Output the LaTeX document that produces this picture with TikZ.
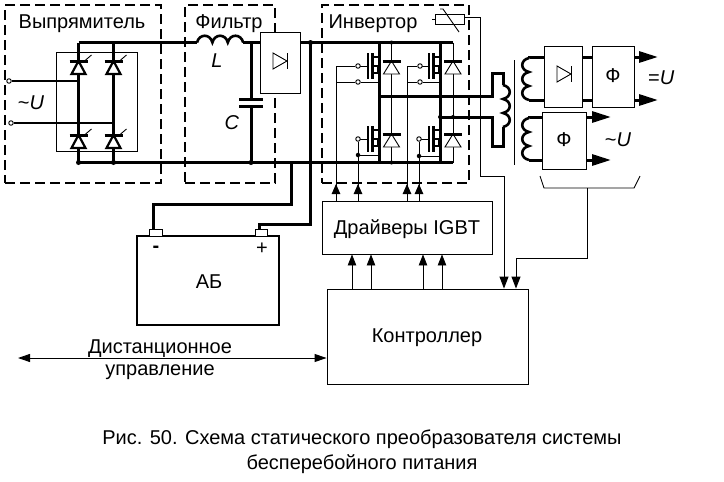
\documentclass[tikz,border=0pt]{standalone}
\usepackage{fontspec}
\setmainfont{Liberation Sans}
\usepackage{tikz}
\usetikzlibrary{arrows.meta}
\tikzset{
	thinw/.style={line width=0.9pt},
	wire/.style={line width=3pt},
	frame/.style={draw, line width=2.2pt, dash pattern=on 10pt off 5pt, inner sep=0pt},
	block/.style={draw, fill=white, line width=0.9pt, inner sep=0pt},
	lbl/.style={inner sep=0pt, font=\fontsize{20}{22}\selectfont},
	sig/.style={thinw, -{Triangle[length=11pt, width=8.5pt]}},
	big/.style={wire, -{Triangle[length=19pt, width=11pt]}},
	dot/.style={circle, fill=black, minimum size=5pt, inner sep=0pt},
	pin/.style={circle, draw, fill=white, line width=0.9pt, minimum size=4.5pt, inner sep=0pt},
	pics/coil/.style={code={
		\draw[wire, line width=2.6pt] (0,0) .. controls (2,-9) and (12,-9) .. (14,0) .. controls (16,-9) and (26,-9) .. (28,0) .. controls (30,-9) and (40,-9) .. (42,0);
	}},
	pics/thyr/.style={code={
		\draw[wire, fill=white, line width=2.2pt] (-7,13) -- (7,13) -- (0,0) -- cycle;
		\draw[wire] (-9,0) -- (9,0);
		\draw[thinw] (6,0) -- (13,-6);
	}},
	pics/fwd/.style={code={
		\draw[thinw, fill=white] (-8,13) -- (8,13) -- (0,0) -- cycle;
		\draw[wire] (-9,0) -- (9,0);
	}},
	pics/igbt/.style={code={
		\draw[thinw] (-10,0) -- (0,0);
		\draw[line width=2.2pt] (0,-13) -- (0,13);
		\draw[line width=3pt] (4.5,-13) -- (4.5,13);
		\draw[line width=2.2pt] (5,-9) -- (11,-9);
		\draw[line width=2.2pt] (5,0) -- (10,0) -- (10,7) -- (5,7);
	}},
	pics/bridge/.style={code={
		\draw[thinw] (-7,-8) -- (7,0) -- (-7,8) -- cycle;
		\draw[thinw] (7,-8) -- (7,8);
	}}
}
\begin{document}
\begin{tikzpicture}[x=1pt, y=-1pt]
	\useasboundingbox (0,0) rectangle (724,482);
	\node[frame, minimum width=156pt, minimum height=178pt] (rectf) at (83,94) {};
	\node[frame, minimum width=90pt, minimum height=178pt] (filtf) at (230,94) {};
	\node[frame, minimum width=147pt, minimum height=178pt] (invf) at (395.5,94) {};
	\node[lbl] (rectl) at (82,24) {Выпрямитель};
	\node[lbl] (filtl) at (229,24) {Фильтр};
	\node[lbl] (invl) at (373,24) {Инвертор};
	\node[block, minimum width=81pt, minimum height=99pt] (bridge) at (96.5,101.5) {};

	\coordinate (railA) at (78.5,42.5);
	\coordinate (railB) at (113.5,42.5);
	\coordinate (railC) at (78.5,162.5);
	\coordinate (railD) at (113.5,162.5);
	\draw[wire] (railA) -- (railC);
	\draw[wire] (railB) -- (railD);
	\draw[wire] (railA) -- (197,42.5);
	\pic at (197,42.5) [xscale=1.1] {coil};
	\draw[wire] (243,42.5) -- (260,42.5);
	\draw[wire] (railC) -- (453,162.5);
	\node[dot] (dotA) at (railC) {};
	\node[dot] (dotB) at (railD) {};
	\pic at (78.5,61) {thyr};
	\pic at (113.5,61) {thyr};
	\pic at (78.5,135) {thyr};
	\pic at (113.5,135) {thyr};
	\node[pin] (acA) at (9,81) {};
	\node[pin] (acB) at (11,123) {};
	\draw[line width=2pt] (acA) -- (78.5,81);
	\draw[line width=2pt] (acB) -- (113.5,123);
	\node[lbl] (acl) at (31,103) {\textasciitilde\textit{U}};

	\coordinate (capT) at (251,42.5);
	\coordinate (capB) at (251,162.5);
	\draw[wire] (capT) -- (251,99);
	\draw[wire] (251,106) -- (capB);
	\draw[wire] (239,99) -- (263,99);
	\draw[wire] (239,106) -- (263,106);
	\node[dot] (dotC) at (capB) {};
	\node[lbl] (indl) at (217,61) {\textit{L}};
	\node[lbl] (capl) at (232,123) {\textit{C}};
	\node[block, minimum width=40pt, minimum height=61pt] (rect) at (280,62.5) {};
	\pic at (280,61) {bridge};

	\coordinate (busT) at (310.5,42.5);
	\draw[wire] (rect.east |- busT) -- (453,42.5);
	\draw[wire] (busT) -- (310.5,224) -- (259,224) -- (259,230);
	\draw[wire] (291,162.5) -- (291,204) -- (153,204) -- (153,230);
	\node[dot] (dotD) at (busT) {};

	\node[block, line width=2.8pt, minimum width=142pt, minimum height=89pt] (batt) at (208,280.5) {};
	\node[block, minimum width=13pt, minimum height=7pt] (neg) at (155.5,232.5) {};
	\node[block, minimum width=12pt, minimum height=7pt] (pos) at (261,232.5) {};
	\node[lbl] (negl) at (156,249) {\textbf{-}};
	\node[lbl] (posl) at (262,249) {+};
	\node[lbl] (battl) at (209,282) {АБ};

	\draw[wire] (379,42.5) -- (379,162.5);
	\draw[wire] (440,42.5) -- (440,162.5);
	\draw[wire] (379,96) -- (492,96) -- (492,73.5) -- (503,73.5) -- (503,85);
	\draw[wire] (440,117) -- (492,117) -- (492,146) -- (503,146) -- (503,127);
	\pic at (503,85) [rotate=-90] {coil};
	\node[dot, minimum size=4pt] (dotE) at (440,117) {};
	\draw[thinw] (391.5,42.5) -- (391.5,162.5);
	\draw[thinw] (453,42.5) -- (453,162.5);
	\node[dot, minimum size=4pt] (dotF) at (453,117) {};
	\node[dot, minimum size=4pt] (dotG) at (391.5,42.5) {};
	\node[dot, minimum size=4pt] (dotH) at (391.5,162.5) {};
	\pic at (391.5,61) {fwd};
	\pic at (391.5,134) {fwd};
	\pic at (453,61) {fwd};
	\pic at (453,134) {fwd};

	\pic at (368,66) {igbt};
	\pic at (368,139) {igbt};
	\pic at (429,66) {igbt};
	\pic at (429,139) {igbt};

	\node[block, minimum width=170pt, minimum height=53pt] (drv) at (407,227.5) {};
	\node[lbl] (drvl) at (407,229) {Драйверы IGBT};
	\node[block, minimum width=201pt, minimum height=95pt] (ctrl) at (427.5,336.5) {};
	\node[lbl] (ctrll) at (427,338) {Контроллер};

	\node[pin] (gA) at (358,66) {};
	\node[pin] (sA) at (358,82) {};
	\node[pin] (gB) at (358,139) {};
	\node[dot, minimum size=4.5pt] (sB) at (358,155) {};
	\node[pin] (gC) at (420,66) {};
	\node[pin] (sC) at (420,82) {};
	\node[pin] (gD) at (419,139) {};
	\node[dot, minimum size=4.5pt] (sD) at (419,156) {};
	\draw[thinw] (sA) -- (379,82);
	\draw[thinw] (sC) -- (440,82);
	\draw[thinw] (sB) -- (379,155);
	\draw[thinw] (sD) -- (440,156);
	\draw[thinw] (gB) -- (sB);
	\draw[thinw] (gD) -- (sD);
	\draw[thinw] (gA) -- (336,66) -- (drv.north -| 336,0);
	\draw[thinw] (sA) -- (336,82);
	\draw[thinw] (gC) -- (407,66) -- (drv.north -| 407,0);
	\draw[thinw] (sC) -- (407,82);
	\draw[thinw] (sB) -- (drv.north -| sB);
	\draw[thinw] (sD) -- (drv.north -| sD);
	\draw[sig, -{Triangle[length=10pt, width=8.5pt]}] (drv.north -| 336,0) -- (336,184);
	\draw[sig, -{Triangle[length=10pt, width=8.5pt]}] (drv.north -| sB) -- (358,184);
	\draw[sig, -{Triangle[length=10pt, width=8.5pt]}] (drv.north -| 407,0) -- (407,184);
	\draw[sig, -{Triangle[length=10pt, width=8.5pt]}] (drv.north -| sD) -- (419,184);
	\draw[sig] (ctrl.north -| 352,0) -- (drv.south -| 352,0);
	\draw[sig] (ctrl.north -| 371,0) -- (drv.south -| 371,0);
	\draw[sig] (ctrl.north -| 423,0) -- (drv.south -| 423,0);
	\draw[sig] (ctrl.north -| 442,0) -- (drv.south -| 442,0);

	\node[block, minimum width=29pt, minimum height=10pt] (therm) at (450,19) {};
	\draw[thinw] (432,19) -- (therm.west);
	\draw[thinw] (440,9) -- (443,9) -- (459,32);
	\draw[sig, -{Triangle[length=12pt, width=9pt]}] (therm.east |- 0,17.5) -- (480,17.5) -- (480,176) -- (504,176) -- (ctrl.north -| 504,0);

	\draw[thinw] (514,60) -- (514,165);
	\node[block, minimum width=38pt, minimum height=61pt] (dcdc) at (563,76.5) {};
	\pic at (564,74) {bridge};
	\node[block, minimum width=42pt, minimum height=61pt] (fdc) at (613,76.5) {};
	\node[block, minimum width=44pt, minimum height=57pt] (fac) at (564,140.5) {};
	\node[lbl] (fdcl) at (613,76) {Ф};
	\node[lbl] (facl) at (564,140) {Ф};
	\draw[wire] (dcdc.west |- 0,57) -- (529,57) -- (529,58);
	\pic at (529,58) [rotate=-90, yscale=-1] {coil};
	\draw[wire] (529,100) -- (dcdc.west |- 0,100);
	\draw[wire] (fac.west |- 0,117) -- (529,117) -- (529,118);
	\pic at (529,118) [rotate=-90, yscale=-1] {coil};
	\draw[wire] (529,160) -- (fac.west |- 0,160);
	\draw[wire] (dcdc.east |- 0,57) -- (fdc.west |- 0,57);
	\draw[wire] (dcdc.east |- 0,100) -- (fdc.west |- 0,100);
	\coordinate (outA) at (658,57);
	\coordinate (outB) at (658,100);
	\coordinate (outC) at (611,117);
	\coordinate (outD) at (611,160);
	\draw[big] (fdc.east |- outA) -- (outA);
	\draw[big] (fdc.east |- outB) -- (outB);
	\draw[big] (fac.east |- outC) -- (outC);
	\draw[big] (fac.east |- outD) -- (outD);
	\node[lbl, anchor=west] (dcl) at (648,78) {=\textit{U}};
	\node[lbl] (acol) at (618,140) {\textasciitilde\textit{U}};

	\coordinate (fbT) at (587,188);
	\draw[thinw] (540,176) -- (544,188) -- (634,188) -- (640,176);
	\draw[sig, -{Triangle[length=12pt, width=9pt]}] (fbT) -- (587,258) -- (516,258) -- (ctrl.north -| 516,0);

	\draw[thinw, {Triangle[length=12pt, width=8pt]}-{Triangle[length=12pt, width=8pt]}] (18,358) -- (ctrl.west |- 0,358);
	\node[lbl] (remA) at (160,349) {Дистанционное};
	\node[lbl] (remB) at (160,372) {управление};
	\node[lbl] (capA) at (362,439) {Рис. 50. Схема статического преобразователя системы};
	\node[lbl] (capB) at (362,464) {бесперебойного питания};
\end{tikzpicture}
\end{document}
